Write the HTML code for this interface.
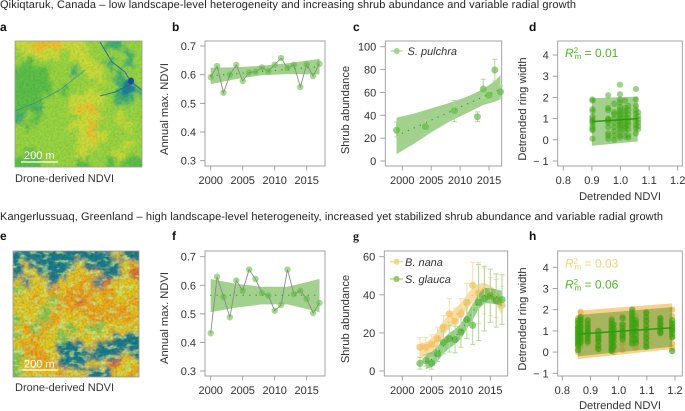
<!DOCTYPE html>
<html lang="en">
<head>
<meta charset="utf-8">
<title>Shrub NDVI figure</title>
<style>
html,body{margin:0;padding:0;background:#fff;width:685px;height:411px;overflow:hidden}
svg{display:block;font-family:"Liberation Sans",Arial,sans-serif;text-rendering:geometricPrecision}
.tick{font-size:11px;fill:#333}
.axt{font-size:11.2px;fill:#333}
.ttl{font-size:11px;fill:#222}
.let{font-size:12px;font-weight:bold;fill:#111}
.leg{font-size:11px;font-style:italic;fill:#333}
</style>
</head>
<body>
<svg id="fig" xmlns="http://www.w3.org/2000/svg" width="685" height="411" viewBox="0 0 685 411">
<defs>
<filter id="blurA" x="-5%" y="-5%" width="110%" height="110%">
<feGaussianBlur in="SourceGraphic" stdDeviation="2.4" result="soft"/>
<feTurbulence type="fractalNoise" baseFrequency="0.11" numOctaves="3" seed="7" result="warp"/>
<feDisplacementMap in="soft" in2="warp" scale="14" xChannelSelector="R" yChannelSelector="G"/>
</filter>
<filter id="speck" x="0" y="0" width="100%" height="100%"><feTurbulence type="fractalNoise" baseFrequency="0.45" numOctaves="2" seed="4"/><feColorMatrix type="matrix" values="0 0 0 0 0  0 0 0 0 0  0 0 0 0 0  1.8 0 0 0 -0.62"/></filter>
<filter id="streakLime" x="0" y="0" width="100%" height="100%"><feTurbulence type="fractalNoise" baseFrequency="0.12 0.2" numOctaves="3" seed="11"/><feColorMatrix type="matrix" values="0 0 0 0 0.62  0 0 0 0 0.84  0 0 0 0 0.25  4 0 0 0 -1.95"/></filter>
<clipPath id="clipA"><rect x="15" y="41" width="127" height="126"/></clipPath>
<clipPath id="clipE"><rect x="13" y="251" width="126" height="126"/></clipPath>
</defs>

<text class="ttl" x="0" y="8" textLength="576" lengthAdjust="spacing">Qikiqtaruk, Canada – low landscape-level heterogeneity and increasing shrub abundance and variable radial growth</text>
<text class="ttl" x="0" y="220" textLength="663" lengthAdjust="spacing">Kangerlussuaq, Greenland – high landscape-level heterogeneity, increased yet stabilized shrub abundance and variable radial growth</text>

<text class="let" x="0" y="31">a</text>
<text class="let" x="172" y="31">b</text>
<text class="let" x="353" y="31">c</text>
<text class="let" x="529" y="31">d</text>
<text class="let" x="0" y="240">e</text>
<text class="let" x="172" y="240">f</text>
<text class="let" x="353" y="240" style="font-family:'Liberation Serif',serif">g</text>
<text class="let" x="529" y="240">h</text>

<g id="mapA" clip-path="url(#clipA)"></g>
<rect x="15" y="41" width="127" height="126" fill="none" stroke="#999" stroke-width="0.8"/>
<line x1="21" x2="58" y1="162" y2="162" stroke="#fff" stroke-width="1.2"/>
<text x="24" y="159" font-size="11" fill="#fff">200 m</text>
<text class="axt" x="15" y="182" style="font-size:11px">Drone-derived NDVI</text>

<g id="mapE" clip-path="url(#clipE)"></g>
<rect x="13" y="251" width="126" height="126" fill="none" stroke="#999" stroke-width="0.8"/>
<line x1="22" x2="58" y1="370" y2="370" stroke="#fff" stroke-width="1.2"/>
<text x="24" y="367.5" font-size="11" fill="#fff">200 m</text>
<text class="axt" x="15" y="391" style="font-size:11px">Drone-derived NDVI</text>

<text class="axt" transform="translate(168,109) rotate(-90)" text-anchor="middle">Annual max. NDVI</text>
<text class="axt" transform="translate(349,110) rotate(-90)" text-anchor="middle">Shrub abundance</text>
<text class="axt" transform="translate(526,109) rotate(-90)" text-anchor="middle">Detrended ring width</text>
<text class="axt" x="620" y="200" text-anchor="middle">Detrended NDVI</text>
<text class="axt" transform="translate(168,318) rotate(-90)" text-anchor="middle">Annual max. NDVI</text>
<text class="axt" transform="translate(349,319) rotate(-90)" text-anchor="middle">Shrub abundance</text>
<text class="axt" transform="translate(526,319) rotate(-90)" text-anchor="middle">Detrended ring width</text>
<text class="axt" x="620" y="409" text-anchor="middle">Detrended NDVI</text>

<g id="pb"></g>
<g id="pc"></g>
<g id="pd"></g>
<g id="pf"></g>
<g id="pg"></g>
<g id="ph"></g>

<g>
<line x1="390.7" x2="402.7" y1="51" y2="51" stroke="#9dd68a" stroke-width="1.2"/>
<circle cx="396.7" cy="51" r="3" fill="#9dd68a"/>
<text class="leg" x="407.5" y="55">S. pulchra</text>
</g>
<g>
<line x1="390" x2="403" y1="261.7" y2="261.7" stroke="#f6d67f" stroke-width="1.2"/>
<circle cx="396.5" cy="261.7" r="3" fill="#f6d67f"/>
<text class="leg" x="405" y="266">B. nana</text>
<line x1="390" x2="403" y1="279" y2="279" stroke="#9ed26a" stroke-width="1.2"/>
<circle cx="396.5" cy="279" r="3" fill="#8fcb58"/>
<text class="leg" x="405" y="283">S. glauca</text>
</g>

<text x="565" y="57" font-size="12" fill="#4db81e"><tspan font-style="italic">R</tspan><tspan font-size="8" dy="-4">2</tspan><tspan font-size="8" dy="6" dx="-3.5">m</tspan><tspan dy="-2"> = 0.01</tspan></text>
<text x="565" y="267.7" font-size="12" fill="#f5d06c"><tspan font-style="italic">R</tspan><tspan font-size="8" dy="-4">2</tspan><tspan font-size="8" dy="6" dx="-3.5">m</tspan><tspan dy="-2"> = 0.03</tspan></text>
<text x="565" y="288.3" font-size="12" fill="#4db81e"><tspan font-style="italic">R</tspan><tspan font-size="8" dy="-4">2</tspan><tspan font-size="8" dy="6" dx="-3.5">m</tspan><tspan dy="-2"> = 0.06</tspan></text>
</svg>

<script>
// ---------- panel b data ----------
const bYears = [2000,2001,2002,2003,2004,2005,2006,2007,2008,2009,2010,2011,2012,2013,2014,2015,2016,2017];
const bNdvi = [0.591,0.63,0.537,0.6,0.634,0.578,0.608,0.61,0.625,0.612,0.635,0.658,0.623,0.635,0.557,0.636,0.595,0.638];
const bBandYears = [2000,2004,2008,2012,2017];
const bBandUpper = [0.624,0.626,0.631,0.64,0.655];
const bBandLower = [0.567,0.585,0.598,0.602,0.601];
const bTrendYears = [2000,2017];
const bTrend = [0.596,0.628];
// ---------- panel f data ----------
const fYears = [2000,2001,2002,2003,2004,2005,2006,2007,2008,2009,2010,2011,2012,2013,2014,2015,2016,2017];
const fNdvi = [0.432,0.63,0.559,0.488,0.617,0.581,0.655,0.622,0.573,0.564,0.511,0.531,0.655,0.569,0.581,0.552,0.503,0.538];
const fBandYears = [2000,2004,2008,2012,2017];
const fBandUpper = [0.622,0.605,0.595,0.595,0.622];
const fBandLower = [0.506,0.522,0.533,0.533,0.506];
const fTrendYears = [2000,2017];
const fTrend = [0.565,0.565];
// ---------- panel c data ----------
const cYears = [1999,2004,2009,2013,2014,2015,2016,2017];
const cAbundance = [27,30,44,38.7,63,57.5,79.6,60.5];
const cErrLow = [21,24,34.5,34.5,55,53,70,55];
const cErrHigh = [34,36,53,43,71.5,62,89,66];
const cBandYears = [1999,2002,2005,2008,2010,2012,2014,2016,2017];
const cBandUpper = [38,41.5,46,50.5,54,58,63,70,75];
const cBandLower = [6,15,25,34,39,44,49,52,54];
const cTrendYears = [1999,2017];
const cTrend = [22,63];
// ---------- panel g data ----------
const gYears = [2003,2004,2005,2006,2007,2008,2009,2010,2011,2012,2013,2014,2015,2016,2017];
const gNana = [12.5,12.5,14,17,23,30,26,30,36,45,41,42,39,38,34.5];
const gNanaErr = [5,5,5,6,6,8,7,8,10,12,16,12,10,10,10];
const gGlauca = [4,5.5,4,9,15,17,16.5,20.5,27,24,36,38,39.5,37,37.5];
const gGlaucaErr = [3,3,3,4,6,7,7,8,10,10,20,17,14,14,13];
const gNanaFit = [11,11,13.5,17,22.5,26,29,32,36,40,42,42.5,41,38.5,33];
const gGlaucaFitYears = [2004,2005,2006,2007,2008,2009,2010,2011,2012,2013,2014,2015,2016,2017];
const gGlaucaFit = [5,6,9,13,16,18,21,26,31,36.5,39.5,39.5,39,38];
const gNanaBand = 3.8;
const gGlaucaBand = 4;
// ---------- panel d data ----------
const dColumns = [0.902,0.957,0.978,0.998,1.016,1.027,1.054,1.062];
const dRingWidths = [
 [1.9,1.85,1.45,1.35,1.1,1.0,0.9,0.85,0.75,0.6,0.5,0.45,0.05],
 [2.1,1.5,1.4,1.0,0.95,0.9,0.8,0.6,0.3,0.2,0.05],
 [1.7,1.3,1.2,1.0,0.8,0.6,0.4,0.2,0.0],
 [2.6,2.15,1.9,1.75,1.55,1.4,1.3,1.2,1.1,1.0,0.9,0.8,0.7,0.6,0.5,0.35,0.2,0.1],
 [1.85,1.5,1.35,1.2,1.05,0.9,0.75,0.65,0.55,0.4,0.15],
 [1.6,1.4,1.2,1.0,0.85,0.7,0.5,0.2,0.1],
 [2.4,1.9,1.6,1.4,1.25,1.05,0.9,0.7,0.55,0.3],
 [1.3,1.1,0.95,0.8,0.65,0.5]
];
const dBandX = [0.9,1.06];
const dBandUpper = [1.96,2.04];
const dBandLower = [-0.28,-0.08];
const dFit = [0.86,1.0];
// ---------- panel h data ----------
const hColumns = [0.856,0.865,0.89,0.928,0.975,0.982,1.014,1.048,1.061,1.098,1.148,1.19];
const hOrangeWidths = [
 [1.6,1.4,1.2,1.0,0.8,0.6,0.4,0.2,0.0],
 [1.9,1.5,1.2,0.9,0.6,0.3],
 [1.4,1.2,1.0,0.8,0.6,0.4],
 [0.9,0.7,0.5,0.3,0.1],
 [1.6,1.3,1.0,0.8,0.5,0.2],
 [1.1,0.7,0.3,0.0],
 [1.7,1.3,1.0,0.7,0.4,0.1],
 [1.6,1.2,0.9,0.5],
 [1.7,1.3,1.0,0.6,0.2],
 [1.9,1.5,1.1,0.7,0.3],
 [1.6,1.3,1.1,0.9],
 [2.0,1.7,1.3,1.0,0.7,0.4,0.2]
];
const hGreenWidths = [
 [1.5,1.35,1.2,1.1,1.0,0.9,0.8,0.7,0.6,0.5,0.4,0.3,0.1],
 [1.65,1.5,1.35,1.2,1.05,0.9,0.75,0.6,0.45],
 [1.5,1.3,1.15,1.0,0.9,0.8,0.65,0.5],
 [1.0,0.8,0.65,0.5,0.3,0.15],
 [1.5,1.35,1.2,1.05,0.9,0.75,0.6,0.45,0.3,0.15,0.05],
 [1.3,1.1,0.85,0.7,0.5,0.25],
 [1.6,1.3,1.15,1.0,0.85,0.75,0.6],
 [2.0,1.85,1.7,1.55,1.4,1.25,1.1,0.95,0.8,0.6,0.4],
 [1.5,1.35,1.2,1.0,0.8,0.6,0.45],
 [1.85,1.65,1.45,1.25,1.05,0.85,0.65,0.45,0.25],
 [1.6,1.45,1.3,1.15,1.0,0.9],
 [1.5,1.35,1.2,1.1,1.0,0.85,0.7,0.05]
];
const hOrangeBandX = [0.855,1.19];
const hOrangeUpper = [1.95,2.3];
const hOrangeLower = [-0.33,0.14];
const hGreenUpper = [1.75,2.12];
const hGreenLower = [-0.2,0.25];
const hFit = [0.85,1.15];
// ---------- tick labels ----------
const yearTicks = [2000,2005,2010,2015];
const ndviTicks = [0.3,0.4,0.5,0.6,0.7];
const cTicks = [0,20,40,60,80,100];
const gTicks = [0,20,40,60];
const ringTicks = [-1,0,1,2,3,4];
const ndviXTicks = [0.8,0.9,1.0,1.1,1.2];
// ---------- map colour sketches ----------
const mapAPalette = {G:'#5cc04a',l:'#98d642',y:'#cbdc3a',o:'#eec02e',t:'#3fb070',b:'#1f7a9e'};
const mapARows = ["yyoooyyyllttll","lyyyylyylllltl","lGlllllyyltltl","GGGGlltlyyltll","GGGGlllllyltbl","GGGGlGllylltbt","GGGlllyyyylttl","GGtlllyoolllll","tlGllllyyylyll","lGllllyyolllyl","lllllllyoyllll","lllllllyylllyl","lGlllllylllyll","GGGllllGllGlGG"];
const mapEPalette = {b:'#1f7e8e',g:'#84ca52',y:'#e6c920',o:'#f0a41f',r:'#d9703a'};
const mapERows = ["bbbbbbbbbbbybb","bybbbbbybbbbyo","byybbbyyoybbyr","ybyybyyoobryyy","gyyyoyoooooyyy","yyoygooroyoyyo","yyygyooooooooy","gyygoyyyoooooo","yogoyygyggyyyy","gyoyygyyyyybbb","yooyybbbybbbbb","goooybbbbbbbyb","gyooobbbyyoryy","gyyyyoyybbbyyo"];

const NS = 'http://www.w3.org/2000/svg';
function make(tag, attrs, parent){
  const n = document.createElementNS(NS, tag);
  for(const k in attrs) n.setAttribute(k, attrs[k]);
  parent.appendChild(n);
  return n;
}
function linear(d0,d1,p0,p1){ return v => p0 + (v-d0)*(p1-p0)/(d1-d0); }

function drawAxes(id, box, sx, sy, xTicks, yTicks, xFmt, yFmt){
  const g = document.getElementById(id);
  const frame = make('rect',{x:box.x,y:box.y,width:box.w,height:box.h,fill:'none',stroke:'#9a9a9a','stroke-width':0.9},g);
  
  
  xTicks.forEach(t=>{
    const tk = make('line',{x1:sx(t),x2:sx(t),y1:box.y+box.h,y2:box.y+box.h+4.5,stroke:'#9a9a9a','stroke-width':0.9},g);
    
    
    const lb = make('text',{x:sx(t),y:box.y+box.h+18,'text-anchor':'middle',class:'tick'},g);
    lb.textContent = xFmt(t);
    
    
  });
  yTicks.forEach(t=>{
    const tk = make('line',{x1:box.x-5,x2:box.x,y1:sy(t),y2:sy(t),stroke:'#9a9a9a','stroke-width':0.9},g);
    
    
    const lb = make('text',{x:box.x-9,y:sy(t)+4,'text-anchor':'end',class:'tick'},g);
    lb.textContent = yFmt(t);
    
    
  });
  return g;
}
function bandPath(xs, up, lo, sx, sy){
  const a = xs.map((x,i)=>sx(x)+','+sy(up[i]));
  const b = xs.map((x,i)=>sx(x)+','+sy(lo[i])).reverse();
  return 'M'+a.join('L')+'L'+b.join('L')+'Z';
}
function linePts(xs, ys, sx, sy){ return xs.map((x,i)=>sx(x)+','+sy(ys[i])).join(' '); }

function timeSeries(id, box, yrs, vals, bx, bu, bl, tx, ty){
  const sx = linear(2000,2015,210.7,306.7);
  const sy = linear(0.3,0.7,box.y0,box.y7);
  const g = drawAxes(id, box, sx, sy, yearTicks, ndviTicks, String, v=>v.toFixed(1));
  const band = make('path',{d:bandPath(bx,bu,bl,sx,sy),fill:'#68b546','fill-opacity':0.62},g);
  
  
  const line = make('polyline',{points:linePts(yrs,vals,sx,sy),fill:'none',stroke:'#8a8a8a','stroke-width':0.9},g);
  
  
  const trend = make('polyline',{points:linePts(tx,ty,sx,sy),fill:'none',stroke:'#3c9e12','stroke-width':1.3,'stroke-linecap':'round','stroke-dasharray':'0.1 6.4'},g);
  
  
  yrs.forEach((y,i)=>{
    const p = make('circle',{cx:sx(y),cy:sy(vals[i]),r:3.2,fill:'#5cb83c','fill-opacity':0.55},g);
    
    
  });
}
timeSeries('pb',{x:205,y:41,w:120,h:125,y0:160.7,y7:46},bYears,bNdvi,bBandYears,bBandUpper,bBandLower,bTrendYears,bTrend);
timeSeries('pf',{x:205,y:251,w:120,h:125,y0:371,y7:256.7},fYears,fNdvi,fBandYears,fBandUpper,fBandLower,fTrendYears,fTrend);

// panel c
(function(){
  const box = {x:385.3,y:41,w:116.4,h:125};
  const sx = linear(2000,2015,402.3,489);
  const sy = linear(0,100,161,46.7);
  const g = drawAxes('pc',box,sx,sy,yearTicks,cTicks,String,String);
  const band = make('path',{d:bandPath(cBandYears,cBandUpper,cBandLower,sx,sy),fill:'#68b546','fill-opacity':0.62},g);
  
  
  const trend = make('polyline',{points:linePts(cTrendYears,cTrend,sx,sy),fill:'none',stroke:'#3c9e12','stroke-width':1.3,'stroke-linecap':'round','stroke-dasharray':'0.1 6.4'},g);
  
  
  cYears.forEach((y,i)=>{
    const e = make('path',{d:`M${sx(y)-2.5} ${sy(cErrLow[i])}H${sx(y)+2.5}M${sx(y)} ${sy(cErrLow[i])}V${sy(cErrHigh[i])}M${sx(y)-2.5} ${sy(cErrHigh[i])}H${sx(y)+2.5}`,fill:'none',stroke:'#a9dc98','stroke-width':1},g);
    
    
    const p = make('circle',{cx:sx(y),cy:sy(cAbundance[i]),r:3.5,fill:'#5cb83c','fill-opacity':0.65},g);
    
    
  });
})();

// panel g
(function(){
  const box = {x:384.3,y:251,w:123.4,h:125};
  const sx = linear(2000,2015,402.3,490.3);
  const sy = linear(0,60,371,256.7);
  const g = drawAxes('pg',box,sx,sy,yearTicks,gTicks,String,String);
  const nu = gNanaFit.map(v=>v+gNanaBand);
  const nl = gNanaFit.map(v=>v-gNanaBand);
  const gu = gGlaucaFit.map(v=>v+gGlaucaBand);
  const gl = gGlaucaFit.map(v=>v-gGlaucaBand);
  const b1 = make('path',{d:bandPath(gYears,nu,nl,sx,sy),fill:'#f5c463','fill-opacity':0.6},g);
  
  
  gYears.forEach((y,i)=>{
    const lo = sy(gNana[i]-gNanaErr[i]), hi = sy(gNana[i]+gNanaErr[i]);
    const e = make('path',{d:`M${sx(y)-2.5} ${lo}H${sx(y)+2.5}M${sx(y)} ${lo}V${hi}M${sx(y)-2.5} ${hi}H${sx(y)+2.5}`,fill:'none',stroke:'#f9deaa','stroke-width':1},g);
    
    
    const p = make('circle',{cx:sx(y),cy:sy(gNana[i]),r:3.6,fill:'#f3bd55','fill-opacity':0.7},g);
    
    
  });
  const b2 = make('path',{d:bandPath(gGlaucaFitYears,gu,gl,sx,sy),fill:'#4fae3c','fill-opacity':0.6},g);
  
  
  gYears.forEach((y,i)=>{
    const lo = sy(Math.max(gGlauca[i]-gGlaucaErr[i],0.5)), hi = sy(gGlauca[i]+gGlaucaErr[i]);
    const e = make('path',{d:`M${sx(y)-2.5} ${lo}H${sx(y)+2.5}M${sx(y)} ${lo}V${hi}M${sx(y)-2.5} ${hi}H${sx(y)+2.5}`,fill:'none',stroke:'#aedb98','stroke-width':1},g);
    
    
    const p = make('circle',{cx:sx(y),cy:sy(gGlauca[i]),r:3.6,fill:'#4aa82c','fill-opacity':0.6},g);
    
    
  });
  const t1 = make('polyline',{points:linePts(gYears,gNanaFit,sx,sy),fill:'none',stroke:'#e8a830','stroke-width':1.1,'stroke-linecap':'round','stroke-dasharray':'0.1 5.9'},g);
  
  
  const t2 = make('polyline',{points:linePts(gGlaucaFitYears,gGlaucaFit,sx,sy),fill:'none',stroke:'#2f8f10','stroke-width':1.1,'stroke-linecap':'round','stroke-dasharray':'0.1 5.9'},g);
  
  
})();

// panel d
(function(){
  const box = {x:557.7,y:41,w:124.6,h:125};
  const sx = linear(0.8,1.2,563.3,677.7);
  const sy = linear(-1,4,161,55);
  const g = drawAxes('pd',box,sx,sy,ndviXTicks,ringTicks,v=>v.toFixed(1),v=>v<0?'\u2212 '+(-v):String(v));
  const band = make('path',{d:bandPath(dBandX,dBandUpper,dBandLower,sx,sy),fill:'#68b546','fill-opacity':0.62},g);
  
  
  dColumns.forEach((x,i)=>{
    dRingWidths[i].forEach(v=>{
      const p = make('circle',{cx:sx(x),cy:sy(v),r:3.1,fill:'#3fa412','fill-opacity':0.5},g);
      
      
    });
  });
  const fit = make('polyline',{points:linePts(dBandX,dFit,sx,sy),fill:'none',stroke:'#2f9a10','stroke-width':1.5},g);
  
  
})();

// panel h
(function(){
  const box = {x:557.7,y:251,w:124.6,h:125};
  const sx = linear(0.8,1.2,562.3,675);
  const sy = linear(-1,4,373.3,267.3);
  const g = drawAxes('ph',box,sx,sy,ndviXTicks,ringTicks,v=>v.toFixed(1),v=>v<0?'\u2212 '+(-v):String(v));
  const b1 = make('path',{d:bandPath(hOrangeBandX,hOrangeUpper,hOrangeLower,sx,sy),fill:'#f5bd5f','fill-opacity':0.7},g);
  
  
  hColumns.forEach((x,i)=>{
    hOrangeWidths[i].forEach(v=>{
      const p = make('circle',{cx:sx(x),cy:sy(v),r:3.1,fill:'#e8a82a','fill-opacity':0.6},g);
      
      
    });
  });
  const b2 = make('path',{d:bandPath(hOrangeBandX,hGreenUpper,hGreenLower,sx,sy),fill:'#5f9a32','fill-opacity':0.52},g);
  
  
  hColumns.forEach((x,i)=>{
    hGreenWidths[i].forEach(v=>{
      const p = make('circle',{cx:sx(x),cy:sy(v),r:3.2,fill:'#35a210','fill-opacity':0.65},g);
      
      
    });
  });
  const fit = make('polyline',{points:linePts(hOrangeBandX,hFit,sx,sy),fill:'none',stroke:'#2f9a10','stroke-width':1.5},g);
  
  
})();

// map sketches
function drawMap(id, rows, palette, x0, y0, w, h){
  const host = document.getElementById(id);
  const blur = make('g',{filter:'url(#blurA)'},host);
  const n = rows.length, cw = w/n, ch = h/n;
  for(let r=-3;r<n+3;r++){
    for(let c=-3;c<n+3;c++){
      const ch0 = rows[Math.min(n-1,Math.max(0,r))][Math.min(n-1,Math.max(0,c))];
      make('rect',{x:x0+c*cw,y:y0+r*ch,width:cw+0.6,height:ch+0.6,fill:palette[ch0]},blur);
    }
  }
}
drawMap('mapA',mapARows,mapAPalette,15,41,127,126);
drawMap('mapE',mapERows,mapEPalette,13,251,126,126);
(function(){
  const hostA = document.getElementById('mapA');
  const r1 = make('path',{d:'M15 111 L35 103 L60 90 L85 70',fill:'none',stroke:'#2a8fa0','stroke-width':0.8,opacity:0.75},hostA);
  
  
  const r2 = make('path',{d:'M100 42 L112 62 L125 72 L131 82 L142 90 M131 84 L115 92 L100 96',fill:'none',stroke:'#1a6f9c','stroke-width':1.1,opacity:0.85},hostA);
  
  
  const pool = make('ellipse',{cx:131,cy:81,rx:3,ry:3.5,fill:'#14558f'},hostA);
  
  
  const spA = make('rect',{x:15,y:41,width:127,height:126,filter:'url(#speck)',opacity:0.12},hostA);
  
  
  const hostE = document.getElementById('mapE');
  const lime = make('rect',{x:13,y:251,width:126,height:126,filter:'url(#streakLime)',opacity:0.75},hostE);
  
  
  const spE = make('rect',{x:13,y:251,width:126,height:126,filter:'url(#speck)',opacity:0.2},hostE);
  
  
})();
</script>
</body>
</html>
